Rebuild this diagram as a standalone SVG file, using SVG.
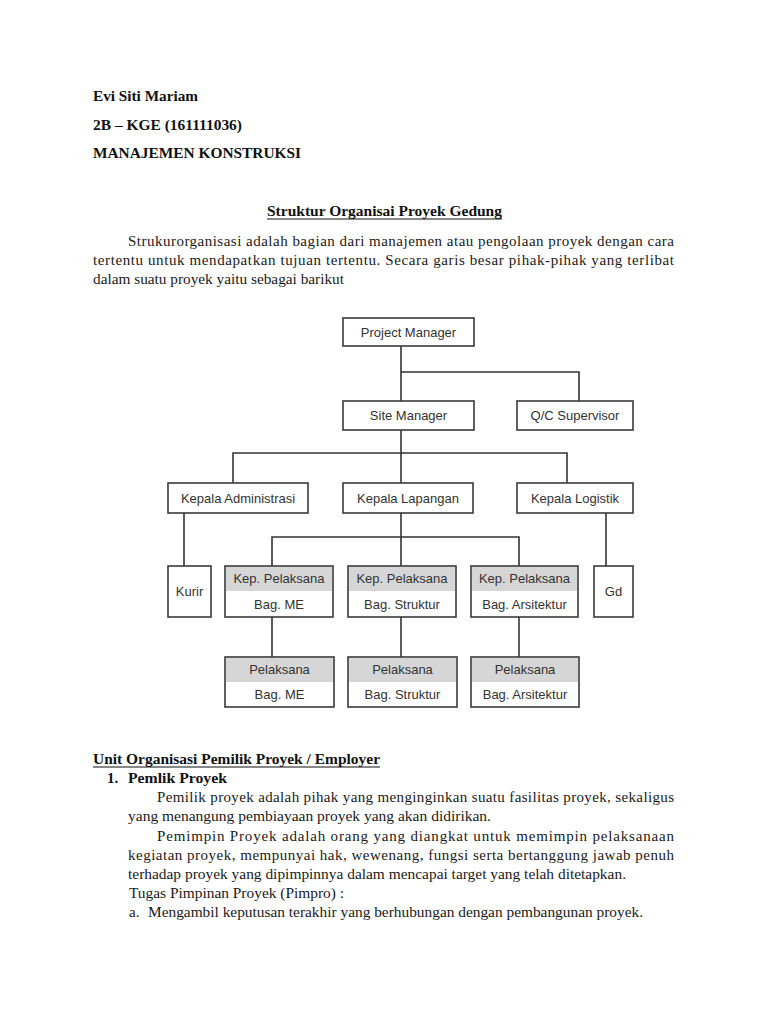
<svg xmlns="http://www.w3.org/2000/svg" width="768" height="1024" viewBox="0 0 768 1024">
<style>
.bg{fill:#ffffff}
.hd{font-family:"Liberation Serif","Times New Roman",serif;font-size:15px;font-weight:bold;fill:#111}
.tx{font-family:"Liberation Serif","Times New Roman",serif;font-size:15px;fill:#1a1a1a}
.ul{stroke:#111;stroke-width:1.2}
.box{fill:#ffffff;stroke:#3a3a3a;stroke-width:1.6}
.band{fill:#d6d6d6;stroke:none}
.lbl{font-family:"Liberation Sans",Arial,sans-serif;font-size:13px;fill:#333;text-anchor:middle}
.cn{fill:none;stroke:#333;stroke-width:1.6}
</style>
<rect class="bg" x="0" y="0" width="768" height="1024"/>

<g id="header">
<text class="hd" x="93" y="101" textLength="105" lengthAdjust="spacingAndGlyphs">Evi Siti Mariam</text>
<text class="hd" x="93" y="130" textLength="149" lengthAdjust="spacingAndGlyphs">2B – KGE (161111036)</text>
<text class="hd" x="93" y="158" textLength="208" lengthAdjust="spacingAndGlyphs">MANAJEMEN KONSTRUKSI</text>
<text class="hd" x="267" y="216" textLength="235" lengthAdjust="spacingAndGlyphs">Struktur Organisai Proyek Gedung</text>
<line class="ul" x1="267" y1="219" x2="502" y2="219"/>
<text class="tx" x="128" y="246" textLength="546" lengthAdjust="spacing">Strukurorganisasi adalah bagian dari manajemen atau pengolaan proyek dengan cara</text>
<text class="tx" x="93" y="265" textLength="581" lengthAdjust="spacing">tertentu untuk mendapatkan tujuan tertentu. Secara garis besar pihak-pihak yang terlibat</text>
<text class="tx" x="93" y="284" textLength="251" lengthAdjust="spacingAndGlyphs">dalam suatu proyek yaitu sebagai barikut</text>
</g>

<g id="connectors">
<polyline class="cn" points="401,346 401,401"/>
<polyline class="cn" points="401,372 579,372 579,401"/>
<polyline class="cn" points="401,430 401,483"/>
<polyline class="cn" points="233,483 233,453 567,453 567,483"/>
<polyline class="cn" points="401,513 401,566"/>
<polyline class="cn" points="272,566 272,537 519,537 519,566"/>
<polyline class="cn" points="184,513 184,566"/>
<polyline class="cn" points="606,513 606,566"/>
<polyline class="cn" points="272,617 272,657"/>
<polyline class="cn" points="401,617 401,657"/>
<polyline class="cn" points="519,617 519,657"/>
</g>

<g id="project-manager">
<rect class="box" x="343" y="318" width="131" height="28"/>
<text class="lbl" x="408.5" y="336.5">Project Manager</text>
</g>
<g id="site-manager">
<rect class="box" x="343" y="401" width="131" height="29"/>
<text class="lbl" x="408.5" y="420">Site Manager</text>
</g>
<g id="qc-supervisor">
<rect class="box" x="517" y="401" width="116" height="29"/>
<text class="lbl" x="575" y="420">Q/C Supervisor</text>
</g>
<g id="kepala-administrasi">
<rect class="box" x="168" y="483" width="140" height="30"/>
<text class="lbl" x="238" y="502.5">Kepala Administrasi</text>
</g>
<g id="kepala-lapangan">
<rect class="box" x="343" y="483" width="130" height="30"/>
<text class="lbl" x="408" y="502.5">Kepala Lapangan</text>
</g>
<g id="kepala-logistik">
<rect class="box" x="517" y="483" width="116" height="30"/>
<text class="lbl" x="575" y="502.5">Kepala Logistik</text>
</g>
<g id="kurir">
<rect class="box" x="168" y="566" width="43" height="51"/>
<text class="lbl" x="189.5" y="596">Kurir</text>
</g>
<g id="gd">
<rect class="box" x="594" y="566" width="39" height="51"/>
<text class="lbl" x="613.5" y="596">Gd</text>
</g>
<g id="kep-pelaksana-me">
<rect class="box" x="225" y="566" width="108" height="51"/>
<rect class="band" x="226" y="567" width="106" height="24"/>
<text class="lbl" x="279" y="583">Kep. Pelaksana</text>
<text class="lbl" x="279" y="608.5">Bag. ME</text>
</g>
<g id="kep-pelaksana-struktur">
<rect class="box" x="348" y="566" width="108" height="51"/>
<rect class="band" x="349" y="567" width="106" height="24"/>
<text class="lbl" x="402" y="583">Kep. Pelaksana</text>
<text class="lbl" x="402" y="608.5">Bag. Struktur</text>
</g>
<g id="kep-pelaksana-arsitektur">
<rect class="box" x="471" y="566" width="107" height="51"/>
<rect class="band" x="472" y="567" width="105" height="24"/>
<text class="lbl" x="524.5" y="583">Kep. Pelaksana</text>
<text class="lbl" x="524.5" y="608.5">Bag. Arsitektur</text>
</g>
<g id="pelaksana-me">
<rect class="box" x="225" y="657" width="109" height="50"/>
<rect class="band" x="226" y="658" width="107" height="24"/>
<text class="lbl" x="279.5" y="674">Pelaksana</text>
<text class="lbl" x="279.5" y="699">Bag. ME</text>
</g>
<g id="pelaksana-struktur">
<rect class="box" x="348" y="657" width="109" height="50"/>
<rect class="band" x="349" y="658" width="107" height="24"/>
<text class="lbl" x="402.5" y="674">Pelaksana</text>
<text class="lbl" x="402.5" y="699">Bag. Struktur</text>
</g>
<g id="pelaksana-arsitektur">
<rect class="box" x="471" y="657" width="108" height="50"/>
<rect class="band" x="472" y="658" width="106" height="24"/>
<text class="lbl" x="525" y="674">Pelaksana</text>
<text class="lbl" x="525" y="699">Bag. Arsitektur</text>
</g>

<g id="body">
<text class="hd" x="93" y="764" textLength="287" lengthAdjust="spacingAndGlyphs">Unit Organisasi Pemilik Proyek / Employer</text>
<line class="ul" x1="93" y1="767" x2="380" y2="767"/>
<text class="hd" x="107" y="783">1.</text>
<text class="hd" x="128" y="783" textLength="99" lengthAdjust="spacingAndGlyphs">Pemlik Proyek</text>
<text class="tx" x="157" y="802" textLength="517" lengthAdjust="spacing">Pemilik proyek adalah pihak yang menginginkan suatu fasilitas proyek, sekaligus</text>
<text class="tx" x="128" y="821" textLength="363" lengthAdjust="spacingAndGlyphs">yang menangung pembiayaan proyek yang akan didirikan.</text>
<text class="tx" x="157" y="841" textLength="517" lengthAdjust="spacing">Pemimpin Proyek adalah orang yang diangkat untuk memimpin pelaksanaan</text>
<text class="tx" x="128" y="860" textLength="546" lengthAdjust="spacing">kegiatan proyek, mempunyai hak, wewenang, fungsi serta bertanggung jawab penuh</text>
<text class="tx" x="128" y="879" textLength="498" lengthAdjust="spacingAndGlyphs">terhadap proyek yang dipimpinnya dalam mencapai target yang telah ditetapkan.</text>
<text class="tx" x="129" y="898" textLength="215" lengthAdjust="spacingAndGlyphs">Tugas Pimpinan Proyek (Pimpro) :</text>
<text class="tx" x="129" y="917">a.</text>
<text class="tx" x="148" y="917" textLength="495" lengthAdjust="spacingAndGlyphs">Mengambil keputusan terakhir yang berhubungan dengan pembangunan proyek.</text>
</g>
</svg>
